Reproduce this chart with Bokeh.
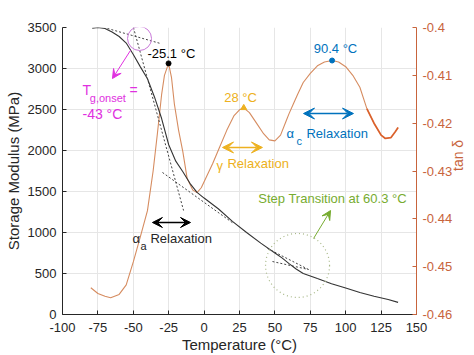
import math
from bokeh.plotting import figure
from bokeh.models import (Range1d, LinearAxis, FixedTicker, CustomJSTickFormatter,
                          Label, Arrow, VeeHead)
from bokeh.embed import file_html
from bokeh.resources import INLINE

# ---------------- data ----------------
temp_E = [-79, -75, -70, -65, -60, -55, -50, -45, -40, -35, -30, -25, -20, -15, -10, -5,
          0, 10, 20, 30, 40, 50, 55, 60, 65, 70, 75, 80, 90, 100, 110, 120, 130, 137]
storage = [3490, 3500, 3488, 3445, 3390, 3310, 3170, 3020, 2875, 2650, 2390, 2070, 1870,
           1740, 1600, 1490, 1420, 1290, 1135, 1000, 870, 750, 690, 620, 555, 500, 470,
           438, 375, 322, 268, 222, 182, 148]

temp_tan = [-80, -75, -70, -66, -60, -55, -50, -45, -40, -36, -33, -30, -28, -25.1, -23,
            -21, -18, -15, -12, -8, -5, -2, 2, 6, 11, 16, 21, 25, 28, 32, 37, 42, 46, 50,
            54, 58, 60, 63, 66, 70, 75, 80, 85, 90.4, 95, 100, 105, 110, 115, 120, 125,
            128, 132, 135, 137]
tan_delta = [-0.4544, -0.4556, -0.4562, -0.4565, -0.4558, -0.4538, -0.4490, -0.4437,
             -0.4383, -0.4300, -0.4222, -0.4140, -0.4100, -0.4075, -0.4105, -0.4160,
             -0.4215, -0.4260, -0.4315, -0.4340, -0.4345, -0.4335, -0.4310, -0.4285,
             -0.4250, -0.4215, -0.4185, -0.4172, -0.4168, -0.4178, -0.4200, -0.4222,
             -0.4235, -0.4237, -0.4225, -0.4195, -0.4180, -0.4160, -0.4140, -0.4115,
             -0.4096, -0.4080, -0.4072, -0.4069, -0.4072, -0.4082, -0.4100, -0.4125,
             -0.4170, -0.4200, -0.4225, -0.4232, -0.4230, -0.4218, -0.4209]

peak_T = [-25.1, 28, 90.4]
peak_tan = [-0.4075, -0.4168, -0.4069]
peak_labels = ["-25.1 °C", "28 °C", "90.4 °C"]

x_ticks = [-100, -75, -50, -25, 0, 25, 50, 75, 100, 125, 150]
x_tick_labels = ["-100", "-75", "-50", "-25", "0", "25", "50", "75", "100", "125", "150"]
E_ticks = [0, 500, 1000, 1500, 2000, 2500, 3000, 3500]
E_tick_labels = ["0", "500", "1000", "1500", "2000", "2500", "3000", "3500"]
tan_ticks = [-0.46, -0.45, -0.44, -0.43, -0.42, -0.41, -0.40]
tan_tick_labels = ["-0.46", "-0.45", "-0.44", "-0.43", "-0.42", "-0.41", "-0.4"]

FONT = "Liberation Sans"
ORANGE_AX = "#C8643C"
ORANGE_LN = "#D68C60"
ORANGE_NOISE = "#D95319"
BLUE = "#0072BD"
YELLOW = "#EDB120"
GREEN = "#77AC30"
MAGENTA = "#E030E0"

p = figure(frame_width=354, frame_height=287, output_backend="svg",
           toolbar_location=None,
           x_range=Range1d(-100, 150), y_range=Range1d(0, 3500),
           min_border_left=62, min_border_right=58, min_border_top=27,
           min_border_bottom=41)
p.extra_y_ranges = {"tan": Range1d(-0.46, -0.40)}
p.outline_line_color = None
p.background_fill_color = "white"
p.border_fill_color = "white"


def fmt(labels):
    return CustomJSTickFormatter(args=dict(labels=labels), code="return labels[index];")


for ax in (p.xaxis[0], p.yaxis[0]):
    ax.major_label_text_font = FONT
    ax.major_label_text_font_size = "13px"
    ax.major_label_text_color = "#262626"
    ax.axis_label_text_font = FONT
    ax.axis_label_text_font_size = "15px"
    ax.axis_label_text_font_style = "normal"
    ax.axis_label_text_color = "#262626"
    ax.axis_line_color = "#262626"
    ax.major_tick_line_color = "#262626"
    ax.major_tick_in = 4
    ax.major_tick_out = 0
    ax.minor_tick_line_color = None
    ax.major_label_standoff = 6
    ax.axis_label_standoff = 3

p.xaxis[0].major_label_standoff = 8
p.xaxis[0].axis_label_standoff = 1
p.xaxis[0].ticker = FixedTicker(ticks=x_ticks)
p.xaxis[0].formatter = fmt(x_tick_labels)
p.yaxis[0].ticker = FixedTicker(ticks=E_ticks)
p.yaxis[0].formatter = fmt(E_tick_labels)
p.xaxis[0].axis_label = "Temperature (°C)"
p.yaxis[0].axis_label = "Storage Modulus (MPa)"

rax = LinearAxis(y_range_name="tan", axis_label="tan δ",
                 ticker=FixedTicker(ticks=tan_ticks), formatter=fmt(tan_tick_labels))
rax.major_label_text_font = FONT
rax.major_label_text_font_size = "13px"
rax.major_label_text_color = ORANGE_AX
rax.axis_label_text_font = FONT
rax.axis_label_text_font_size = "14px"
rax.axis_label_text_font_style = "normal"
rax.axis_label_text_color = ORANGE_AX
rax.axis_label_orientation = math.pi / 2
rax.axis_label_standoff = 3
rax.axis_line_color = ORANGE_AX
rax.major_tick_line_color = ORANGE_AX
rax.major_tick_in = 4
rax.major_tick_out = 0
rax.minor_tick_line_color = None
rax.major_label_standoff = 6
p.add_layout(rax, "right")

p.xgrid.grid_line_color = "#E6E6E6"
p.ygrid.grid_line_color = "#E6E6E6"
p.xgrid.ticker = FixedTicker(ticks=x_ticks)
p.ygrid.ticker = FixedTicker(ticks=E_ticks)

# ---------------- curves ----------------
p.line(temp_tan, tan_delta, y_range_name="tan", line_color=ORANGE_LN, line_width=1.1)
noise_T = [t for t in temp_tan if t >= 114]
noise_v = [v for t, v in zip(temp_tan, tan_delta) if t >= 114]
p.line(noise_T, noise_v, y_range_name="tan", line_color=ORANGE_NOISE, line_width=1.8,
       line_alpha=0.8)
p.line(temp_E, storage, line_color="#333333", line_width=1.1)

# peak markers
p.scatter(peak_T[0:1], peak_tan[0:1], y_range_name="tan", marker="circle", size=5,
          color="black")
p.scatter(peak_T[1:2], peak_tan[1:2], y_range_name="tan", marker="triangle", size=6,
          color=YELLOW)
p.scatter(peak_T[2:3], peak_tan[2:3], y_range_name="tan", marker="circle", size=5,
          color=BLUE)

# tangent lines (dashed)
tangents = [((-68.2, 3488), (-30.8, 3305)),
            ((-49.9, 3500), (-14.5, 1268)),
            ((-29.4, 1732), (20, 1120)),
            ((44.8, 805), (75.1, 537)),
            ((48.3, 646), (73.7, 549))]
for (x0, y0), (x1, y1) in tangents:
    p.line([x0, x1], [y0, y1], line_color="#444444", line_dash="2 2", line_width=1)

# circles
p.scatter([-45.6], [3366], marker="circle", size=24, fill_color=None,
          line_color="#C878D8", line_width=1)
p.scatter([66], [598], marker="circle", size=64, fill_color=None,
          line_color="#A8B888", line_width=1.2, line_dash="1 3")

# ---------------- annotations ----------------
def lab(x, y, text, color, size="13px", align="left", baseline="middle"):
    p.add_layout(Label(x=x, y=y, text=text, text_color=color, text_font=FONT,
                       text_font_size=size, text_align=align, text_baseline=baseline))

lab(-40, 3183, peak_labels[0], "black")
lab(25.7, 2646, peak_labels[1], YELLOW, align="center")
lab(92.8, 3244, peak_labels[2], BLUE, align="center")

# Tg onset
lab(-85.9, 2732, "T", MAGENTA, size="14px")
lab(-80.7, 2640, "g,onset", MAGENTA, size="11px")
lab(-52.7, 2740, "=", MAGENTA, size="14px")
lab(-85.9, 2451, "-43 °C", MAGENTA, size="14px")
p.add_layout(Arrow(x_start=-52, y_start=3220, x_end=-64.7, y_end=2878,
                   line_color=MAGENTA, line_width=1,
                   end=VeeHead(size=9, fill_color=MAGENTA, line_color=MAGENTA)))

# alpha_c relaxation
p.add_layout(Arrow(x_start=70.2, y_start=2451, x_end=105.5, y_end=2451,
                   line_color=BLUE, line_width=1.6,
                   start=VeeHead(size=11, fill_color=BLUE, line_color=BLUE),
                   end=VeeHead(size=11, fill_color=BLUE, line_color=BLUE)))
lab(58.2, 2207, "α", BLUE)
lab(65.3, 2115, "c", BLUE, size="11px")
lab(72.3, 2207, "Relaxation", BLUE)

# gamma relaxation
p.add_layout(Arrow(x_start=13, y_start=2037, x_end=41.2, y_end=2037,
                   line_color=YELLOW, line_width=1.6,
                   start=VeeHead(size=11, fill_color=YELLOW, line_color=YELLOW),
                   end=VeeHead(size=11, fill_color=YELLOW, line_color=YELLOW)))
lab(8.8, 1820, "γ", YELLOW)
lab(16.5, 1841, "Relaxation", YELLOW)

# alpha_a relaxation
p.add_layout(Arrow(x_start=-36.5, y_start=1122, x_end=-9.6, y_end=1122,
                   line_color="black", line_width=1.4,
                   start=VeeHead(size=10, fill_color="black", line_color="black"),
                   end=VeeHead(size=10, fill_color="black", line_color="black")))
lab(-50.6, 927, "α", "#262626")
lab(-44.9, 835, "a", "#262626", size="11px")
lab(-37.9, 927, "Relaxation", "#262626")

# step transition
p.add_layout(Arrow(x_start=77.3, y_start=927, x_end=89.3, y_end=1268,
                   line_color=GREEN, line_width=1,
                   end=VeeHead(size=9, fill_color=GREEN, line_color=GREEN)))
lab(90.7, 1415, "Step Transition at 60.3 °C", GREEN, align="center")

open("out.html", "w").write(file_html(p, INLINE))
